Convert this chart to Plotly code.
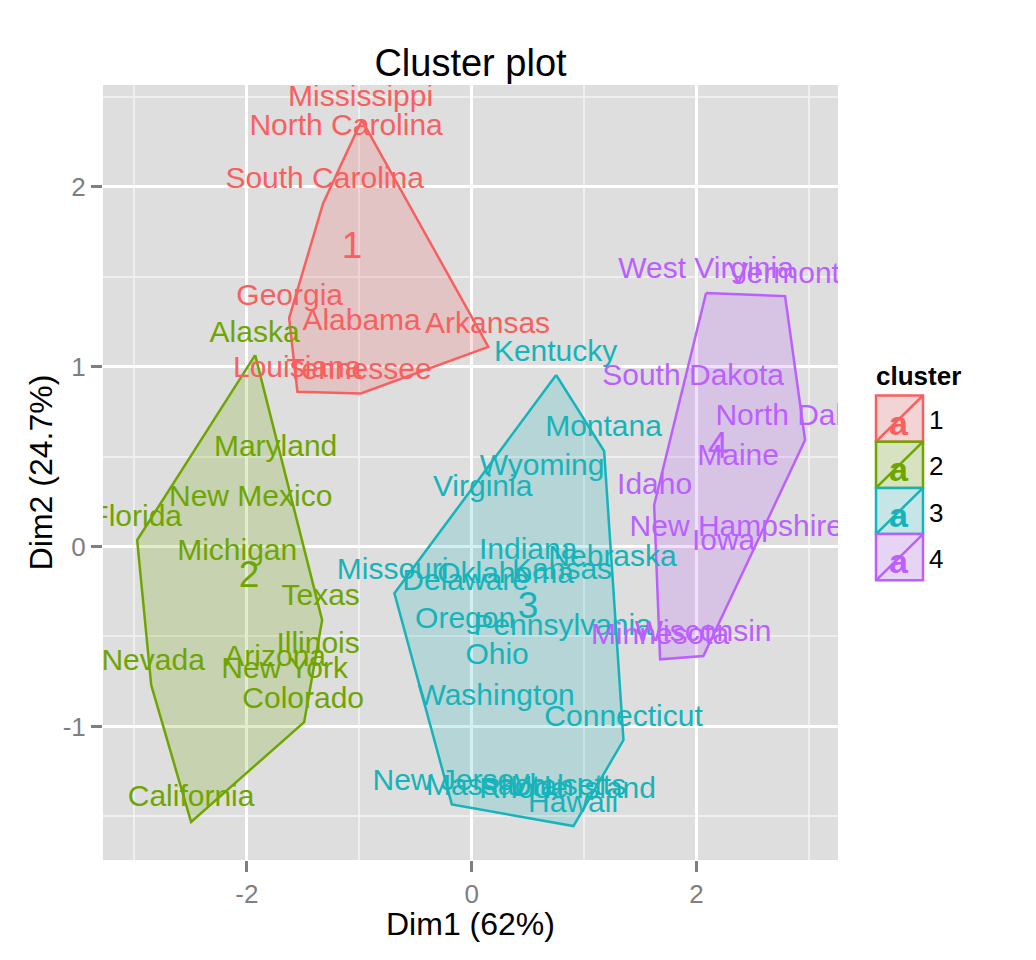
import plotly.graph_objects as go

# cluster colours
colors = ["#F86060", "#6EA500", "#14B4BA", "#BC5FFF"]

# hull outlines
hull_x_1 = [-0.977, -1.321, -1.624, -1.550, -0.986, 0.149]
hull_y_1 = [2.372, 1.910, 1.271, 0.861, 0.852, 1.111]
hull_x_2 = [-1.926, -1.330, -1.490, -2.496, -2.851, -2.976]
hull_y_2 = [1.065, -0.409, -0.976, -1.532, -0.770, 0.036]
hull_x_3 = [0.752, 1.179, 1.351, 0.906, -0.176, -0.687]
hull_y_3 = [0.954, 0.531, -1.076, -1.554, -1.434, -0.260]
hull_x_4 = [2.086, 2.789, 2.967, 2.062, 1.677, 1.624]
hull_y_4 = [1.410, 1.393, 0.592, -0.609, -0.627, 0.231]

# state labels
states_1 = ["Mississippi", "North Carolina", "South Carolina", "Georgia", "Alabama", "Arkansas", "Louisiana", "Tennessee"]
x_1 = [-0.988, -1.117, -1.308, -1.619, -0.979, 0.142, -1.552, -1.001]
y_1 = [2.494, 2.332, 2.037, 1.387, 1.248, 1.231, 0.986, 0.975]

states_2 = ["Alaska", "Maryland", "New Mexico", "Florida", "Michigan", "Texas", "Illinois", "Arizona", "New York", "Nevada", "Colorado", "California"]
x_2 = [-1.931, -1.744, -1.966, -2.985, -2.086, -1.343, -1.366, -1.748, -1.664, -2.834, -1.499, -2.496]
y_2 = [1.181, 0.547, 0.269, 0.158, -0.031, -0.282, -0.549, -0.621, -0.688, -0.643, -0.855, -1.400]

states_3 = ["Kentucky", "Montana", "Wyoming", "Virginia", "Indiana", "Nebraska", "Kansas", "Missouri", "Oklahoma", "Delaware",
            "Oregon", "Pennsylvania", "Ohio", "Washington", "Connecticut", "New Jersey", "Massachusetts", "Rhode Island", "Utah", "Hawaii"]
x_3 = [0.747, 1.174, 0.627, 0.098, 0.503, 1.254, 0.805, -0.703, 0.302, -0.053,
       -0.058, 0.810, 0.227, 0.218, 1.352, -0.185, 0.485, 0.854, 0.627, 0.903]
y_3 = [1.075, 0.658, 0.441, 0.324, -0.026, -0.065, -0.137, -0.137, -0.159, -0.198,
       -0.410, -0.449, -0.610, -0.838, -0.955, -1.311, -1.339, -1.355, -1.344, -1.433]

states_4 = ["West Virginia", "Vermont", "South Dakota", "North Dakota", "Maine", "Idaho", "New Hampshire", "Iowa", "Minnesota", "Wisconsin"]
x_4 = [2.086, 2.780, 1.971, 2.956, 2.371, 1.628, 2.355, 2.242, 1.677, 2.060]
y_4 = [1.537, 1.509, 0.942, 0.719, 0.497, 0.336, 0.102, 0.024, -0.499, -0.482]

# cluster numbers in the middle of each hull
center_x = [-1.063, -1.980, 0.503, 2.193]
center_y = [1.655, -0.175, -0.347, 0.543]
cluster_names = ["1", "2", "3", "4"]

x_ticks = [-2, 0, 2]
x_tick_labels = ["-2", "0", "2"]
y_ticks = [-1, 0, 1, 2]
y_tick_labels = ["-1", "0", "1", "2"]

hulls = [(hull_x_1, hull_y_1), (hull_x_2, hull_y_2), (hull_x_3, hull_y_3), (hull_x_4, hull_y_4)]
labels = [(states_1, x_1, y_1), (states_2, x_2, y_2), (states_3, x_3, y_3), (states_4, x_4, y_4)]

FONT = "Liberation Sans"
W, H = 1036, 960
L, R, T, B = 103, 838, 85, 860


def rgba(hex_color, alpha):
    r, g, b = int(hex_color[1:3], 16), int(hex_color[3:5], 16), int(hex_color[5:7], 16)
    return f"rgba({r},{g},{b},{alpha})"


def px_x(px):
    return (px - L) / (R - L)


def px_y(py):
    return (B - py) / (B - T)


fig = go.Figure()

for i, (hx, hy) in enumerate(hulls):
    fig.add_trace(go.Scatter(x=hx + hx[:1], y=hy + hy[:1], mode="lines", fill="toself",
                             fillcolor=rgba(colors[i], 0.2), line=dict(color=colors[i], width=2.5),
                             hoverinfo="skip", showlegend=False))

for i, (names, xs, ys) in enumerate(labels):
    fig.add_trace(go.Scatter(x=xs, y=ys, text=names, mode="text", textposition="middle center",
                             textfont=dict(family=FONT, size=30, color=colors[i]), showlegend=False))
    fig.add_trace(go.Scatter(x=[center_x[i]], y=[center_y[i]], text=[cluster_names[i]], mode="text",
                             textposition="middle center",
                             textfont=dict(family=FONT, size=37, color=colors[i]), showlegend=False))

# legend keys drawn by hand, the "a" + diagonal look does not exist in plotly legends
key_left, key_right = 876, 923
key_top, key_h = 395.5, 46.2
shapes = []
annotations = [dict(text="<b>cluster</b>", xref="paper", yref="paper", x=px_x(key_left - 2), y=px_y(376),
                    xanchor="left", yanchor="middle", showarrow=False,
                    font=dict(family=FONT, size=26, color="black")),
               # x title as annotation, standoff=0 still sits too low
               dict(text="Dim1 (62%)", xref="paper", yref="paper", x=0.5, y=px_y(924),
                    xanchor="center", yanchor="middle", showarrow=False,
                    font=dict(family=FONT, size=32, color="black"))]
for i, name in enumerate(cluster_names):
    y0 = key_top + i * key_h
    y1 = y0 + key_h
    shapes.append(dict(type="rect", xref="paper", yref="paper", x0=px_x(key_left), x1=px_x(key_right),
                       y0=px_y(y0), y1=px_y(y1), fillcolor="#F2F2F2", line=dict(width=0)))
    shapes.append(dict(type="rect", xref="paper", yref="paper", x0=px_x(key_left), x1=px_x(key_right),
                       y0=px_y(y0), y1=px_y(y1), fillcolor=rgba(colors[i], 0.2),
                       line=dict(color=colors[i], width=2.5)))
    annotations.append(dict(text="<b>a</b>", xref="paper", yref="paper", x=px_x((key_left + key_right) / 2),
                            y=px_y((y0 + y1) / 2 + 4), xanchor="center", yanchor="middle", showarrow=False,
                            font=dict(family=FONT, size=34, color=colors[i])))
    shapes.append(dict(type="line", xref="paper", yref="paper", x0=px_x(key_left), x1=px_x(key_right),
                       y0=px_y(y1), y1=px_y(y0), line=dict(color=colors[i], width=2.5)))
    annotations.append(dict(text=name, xref="paper", yref="paper", x=px_x(927), y=px_y((y0 + y1) / 2 + 1.5),
                            xanchor="left", yanchor="middle", showarrow=False,
                            font=dict(family=FONT, size=26, color="black")))

fig.update_layout(
    width=W, height=H, margin=dict(l=L, r=W - R, t=T, b=H - B, pad=0),
    paper_bgcolor="white", plot_bgcolor="#DEDEDE", showlegend=False,
    font=dict(family=FONT),
    title=dict(text="Cluster plot", x=(L + R) / 2 / W, xanchor="center", y=1 - 63 / H, yanchor="middle",
               font=dict(family=FONT, size=38, color="black")),
    shapes=shapes, annotations=annotations,
)

fig.update_xaxes(range=[-3.28, 3.26], tickvals=x_ticks, ticktext=x_tick_labels, zeroline=False,
                 showgrid=True, gridcolor="white", gridwidth=3,
                 ticks="outside", ticklen=11, tickwidth=3, tickcolor="#7F7F7F",
                 tickfont=dict(family=FONT, size=26, color="#7F7F7F"),
                 minor=dict(tickmode="array", tickvals=[-3, -1, 1, 3], showgrid=True, gridcolor="#EFEFEF", gridwidth=1.5, ticks=""))
fig.update_yaxes(range=[-1.743, 2.567], tickvals=y_ticks, ticktext=y_tick_labels, zeroline=False,
                 showgrid=True, gridcolor="white", gridwidth=3,
                 ticks="outside", ticklen=11, tickwidth=3, tickcolor="#7F7F7F",
                 tickfont=dict(family=FONT, size=26, color="#7F7F7F"),
                 minor=dict(tickmode="array", tickvals=[-1.5, -0.5, 0.5, 1.5, 2.5], showgrid=True, gridcolor="#EFEFEF", gridwidth=1.5, ticks=""),
                 title=dict(text="Dim2 (24.7%)", font=dict(family=FONT, size=32, color="black"), standoff=0))

fig.write_html("out.html", config=dict(displayModeBar=False),
               post_script="document.body.style.margin='0';document.documentElement.style.overflow='hidden';")
